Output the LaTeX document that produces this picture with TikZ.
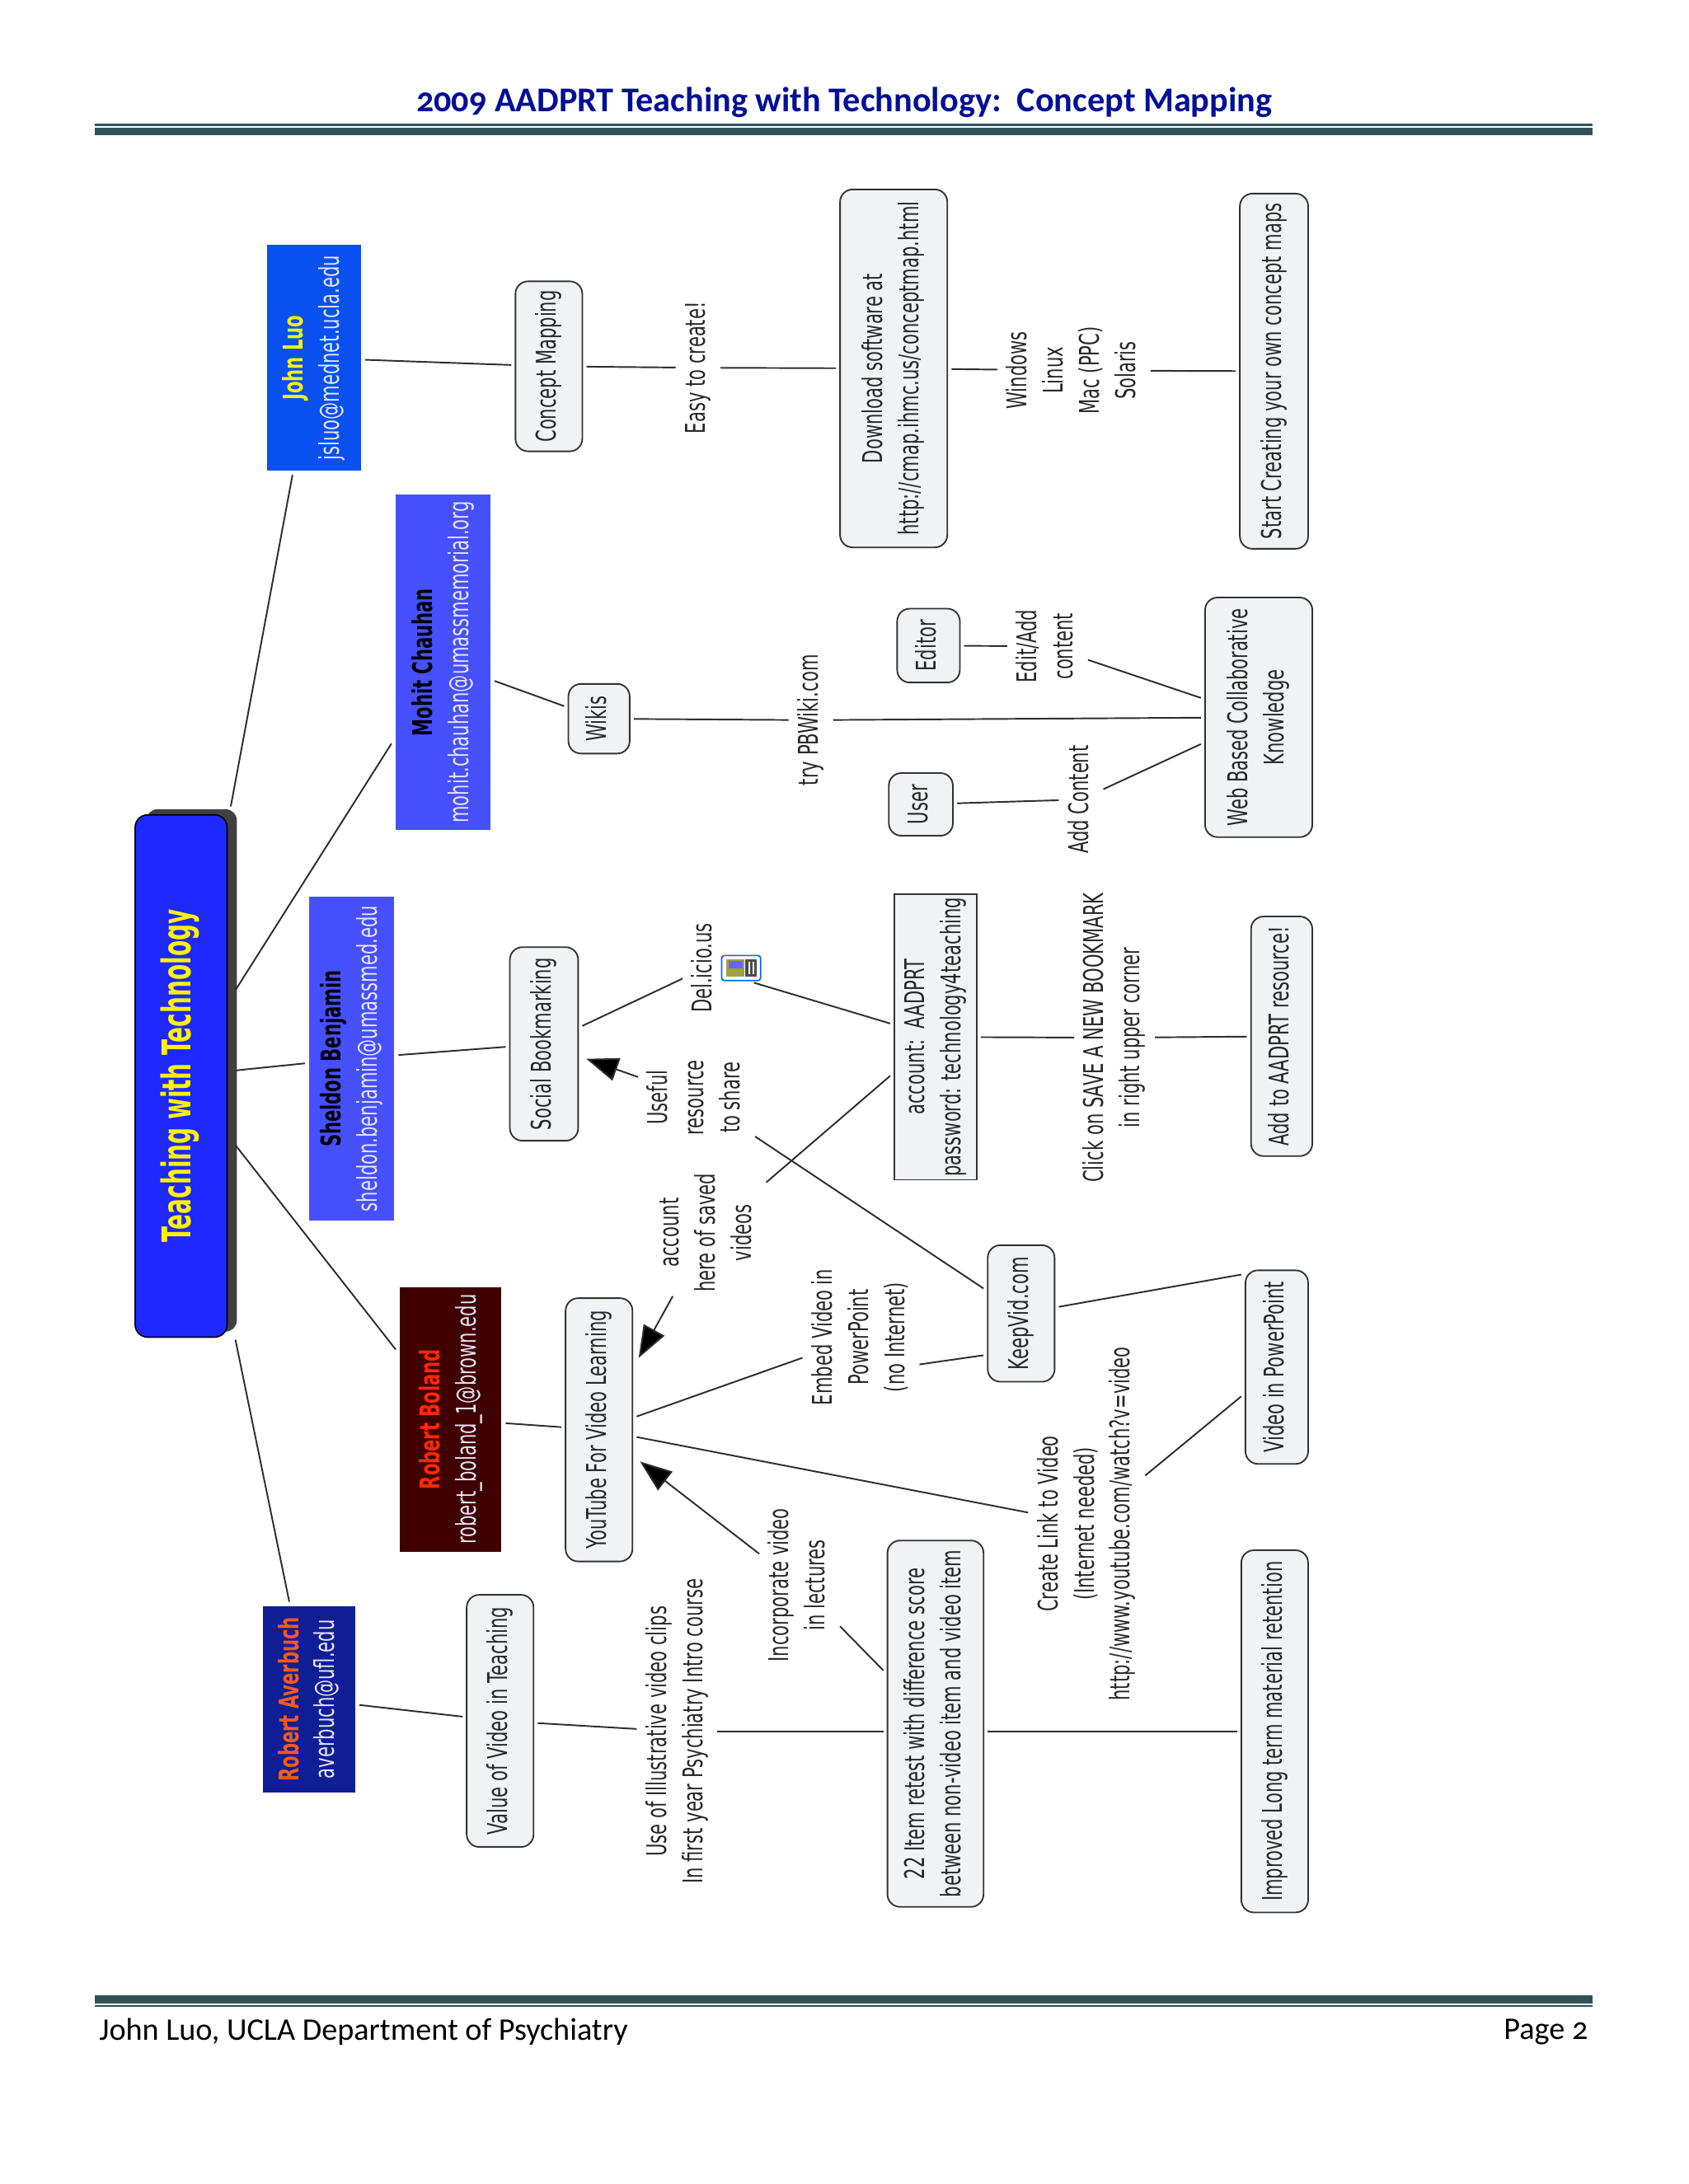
\documentclass[tikz,border=0pt]{standalone}
\usepackage{fontspec}
\usepackage{graphicx}
\usetikzlibrary{arrows.meta}
\setmainfont{Carlito}
\newfontfamily\headfont[Numbers=OldStyle]{Carlito}
\newfontfamily\cmfont[FakeStretch=0.64]{DejaVu Sans}
\newfontfamily\rootfont[FakeStretch=0.58]{DejaVu Sans}
\definecolor{rulecol}{HTML}{2F5257}
\definecolor{titleblue}{HTML}{000F96}
\definecolor{boxgray}{HTML}{F0F2F4}
\definecolor{linecol}{HTML}{2E2E2E}
\definecolor{rootblue}{HTML}{1E28FF}
\definecolor{luoblue}{HTML}{0A50F0}
\definecolor{violetblue}{HTML}{4650FF}
\definecolor{maroonbox}{HTML}{400000}
\definecolor{navybox}{HTML}{101E96}
\definecolor{redname}{HTML}{FF2A00}
\definecolor{orangename}{HTML}{FF5A14}
\definecolor{mailwhite}{HTML}{E6E6F5}
\newcommand{\rt}[1]{\rotatebox{90}{\begin{tabular}{@{}c@{}}#1\end{tabular}}}
\tikzset{
  sz/.style 2 args={minimum width=#1pt,minimum height=#2pt},
  cmtext/.style={font=\cmfont\fontsize{19.5}{26}\selectfont,text=black!85,inner sep=0pt},
  rbox/.style={cmtext,draw=black!80,fill=boxgray,line width=1.1pt,rounded corners=9pt,outer sep=3pt},
  sbox/.style={cmtext,draw=black!80,fill=boxgray,line width=1.1pt,outer sep=3pt},
  lab/.style={cmtext,outer sep=3pt},
  person/.style={cmtext,inner sep=0pt,outer sep=3pt,text=mailwhite},
  conn/.style={draw=linecol,line width=1.15pt},
  arr/.style={conn,shorten >=3pt,-{Triangle[length=23pt,width=17pt,fill=black]}},
  rulebar/.style={fill=rulecol,draw=none}
}
\begin{document}
\begin{tikzpicture}[x=1pt,y=-1pt]
\useasboundingbox (0,0) rectangle (1211.8,1568);
% header and footer
\node[font=\headfont\bfseries\fontsize{25}{30}\selectfont,text=titleblue,inner sep=0pt] (title) at (606,73.5) {2009 AADPRT Teaching with Technology:\ \ Concept Mapping};
\fill[rulebar] (68,89) rectangle (1143,90.5);
\fill[rulebar] (68,91.5) rectangle (1143,97);
\fill[rulebar] (68,1432.5) rectangle (1143,1438.5);
\fill[rulebar] (68,1439.5) rectangle (1143,1441);
\node[font=\fontsize{22.6}{28}\selectfont,anchor=west,inner sep=0pt] (foot) at (71,1459) {John Luo, UCLA Department of Psychiatry};
\node[font=\headfont\fontsize{22.6}{28}\selectfont,anchor=east,inner sep=0pt] (page) at (1140,1459) {Page 2};
% root
\fill[black!75,rounded corners=8pt] (105,581) rectangle (170,956);
\node[draw=black,fill=rootblue,line width=1pt,rounded corners=9pt,sz={66}{375},outer sep=6pt,inner sep=0pt,
  font=\rootfont\bfseries\fontsize{28.5}{34}\selectfont,text=yellow] (root) at (130,772.5) {\rt{Teaching with Technology}};
% people
\node[person,fill=luoblue,sz={67}{162}] (luo) at (225.5,257) {\rt{\color{yellow}\bfseries John Luo\\jsluo@mednet.ucla.edu}};
\node[person,fill=violetblue,sz={68}{241}] (chauhan) at (318,475.5) {\rt{\color{black}\bfseries Mohit Chauhan\\mohit.chauhan@umassmemorial.org}};
\node[person,fill=violetblue,sz={61}{232}] (benjamin) at (252.5,760) {\rt{\color{black}\bfseries Sheldon Benjamin\\sheldon.benjamin@umassmed.edu}};
\node[person,fill=maroonbox,sz={73}{190}] (boland) at (323.5,1019) {\rt{\color{redname}\bfseries Robert Boland\\robert\_boland\_1@brown.edu}};
\node[person,fill=navybox,sz={66}{134}] (averbuch) at (222,1220) {\rt{\color{orangename}\bfseries Robert Averbuch\\averbuch@ufl.edu}};
% boxes
\node[rbox,sz={48}{122}] (concept) at (394,263) {\rt{Concept Mapping}};
\node[rbox,sz={77}{257}] (download) at (641.5,264.5) {\rt{Download software at\\http://cmap.ihmc.us/conceptmap.html}};
\node[rbox,sz={49}{255}] (start) at (914.5,266.5) {\rt{Start Creating your own concept maps}};
\node[rbox,sz={44}{50}] (wikis) at (430,516) {\rt{Wikis}};
\node[rbox,sz={45}{53}] (editor) at (666.5,463.5) {\rt{Editor}};
\node[rbox,sz={46}{45}] (user) at (661,577.5) {\rt{User}};
\node[rbox,sz={77}{172}] (web) at (903.5,515) {\rt{Web Based Collaborative\\Knowledge}};
\node[rbox,sz={49}{139}] (social) at (390.5,749.5) {\rt{Social Bookmarking}};
\node[sbox,sz={59}{205}] (acct) at (671.5,744.5) {\rt{account:\ \ AADPRT\\password: technology4teaching}};
\node[rbox,sz={44}{172}] (addres) at (920,744) {\rt{Add to AADPRT resource!}};
\node[rbox,sz={48}{98}] (keepvid) at (733,943) {\rt{KeepVid.com}};
\node[rbox,sz={45}{139}] (video) at (916.5,981.5) {\rt{Video in PowerPoint}};
\node[rbox,sz={48}{189}] (youtube) at (430,1026.5) {\rt{YouTube For Video Learning}};
\node[rbox,sz={48}{181}] (value) at (359,1235.5) {\rt{Value of Video in Teaching}};
\node[rbox,sz={69}{263}] (item) at (671.5,1237.5) {\rt{22 Item retest with difference score\\between non-video item and video item}};
\node[rbox,sz={48}{260}] (improved) at (915,1243) {\rt{Improved Long term material retention}};
% linking phrases
\node[lab] (easy) at (501,264) {\rt{Easy to create!}};
\node[lab] (windows) at (771,266) {\rt{Windows\\Linux\\Mac (PPC)\\Solaris}};
\node[lab] (try) at (582,517) {\rt{try PBWiki.com}};
\node[lab] (edit) at (752,464) {\rt{Edit/Add\\content}};
\node[lab] (addcontent) at (776,574) {\rt{Add Content}};
\node[lab] (del) at (506,695) {\rt{Del.icio.us}};
\node[lab] (useful) at (500,788) {\rt{Useful\\resource\\to share}};
\node[lab] (here) at (508,885) {\rt{account\\here of saved\\videos}};
\node[lab] (embed) at (618,960) {\rt{Embed Video in\\PowerPoint\\(no Internet)}};
\node[lab] (create) at (780,1094) {\rt{Create Link to Video\\(Internet needed)\\http://www.youtube.com/watch?v=video}};
\node[lab] (click) at (800,745) {\rt{Click on SAVE A NEW BOOKMARK\\in right upper corner}};
\node[lab] (incorp) at (574,1138) {\rt{Incorporate video\\in lectures}};
\node[lab] (use) at (486,1243) {\rt{Use of Illustrative video clips\\In first year Psychiatry Intro course}};
% icon beside Del.icio.us
\node[draw=blue!60!cyan,fill=white,line width=1pt,rounded corners=2pt,sz={28}{18},inner sep=0pt,outer sep=0pt] (icon) at (532,695) {};
\fill[yellow!60!black] (521,689) rectangle (534,701);
\fill[blue!60] (523,690) rectangle (533,695);
\fill[black!70] (535,689) rectangle (543,701);
\fill[white] (537,690.5) rectangle (538.5,699.5);
\fill[white] (540,690.5) rectangle (541.5,699.5);
% connectors
\draw[conn] (root) -- (luo);
\draw[conn] (root) -- (chauhan);
\draw[conn] (root) -- (benjamin);
\draw[conn] (root) -- (boland);
\draw[conn] (root) -- (averbuch);
\draw[conn] (luo) -- (concept);
\draw[conn] (concept) -- (easy);
\draw[conn] (easy) -- (download);
\draw[conn] (download) -- (windows);
\draw[conn] (windows) -- (start);
\draw[conn] (chauhan) -- (wikis);
\draw[conn] (wikis) -- (try);
\draw[conn] (try) -- (web);
\draw[conn] (user) -- (addcontent);
\draw[conn] (addcontent) -- (web);
\draw[conn] (editor) -- (edit);
\draw[conn] (edit) -- (web);
\draw[conn] (benjamin) -- (social);
\draw[conn] (social) -- (del);
\draw[conn,shorten <=20pt] (del) -- (acct);
\draw[conn] (acct) -- (click);
\draw[conn] (click) -- (addres);
\draw[arr] (useful) -- (social);
\draw[conn] (useful) -- (keepvid);
\draw[conn] (here) -- (acct);
\draw[arr] (here) -- (youtube);
\draw[conn] (boland) -- (youtube);
\draw[conn] (youtube) -- (embed);
\draw[conn] (embed.-25) -- (keepvid.228);
\draw[conn] (keepvid) -- (video.111);
\draw[conn] (youtube) -- (create);
\draw[conn] (create) -- (video);
\draw[arr] (incorp) -- (youtube);
\draw[conn] (incorp) -- (item);
\draw[conn] (averbuch) -- (value);
\draw[conn] (value) -- (use);
\draw[conn] (use.east) -- (use.east -| item.west);
\draw[conn] (item.east |- improved.west) -- (improved.west);
\end{tikzpicture}
\end{document}
